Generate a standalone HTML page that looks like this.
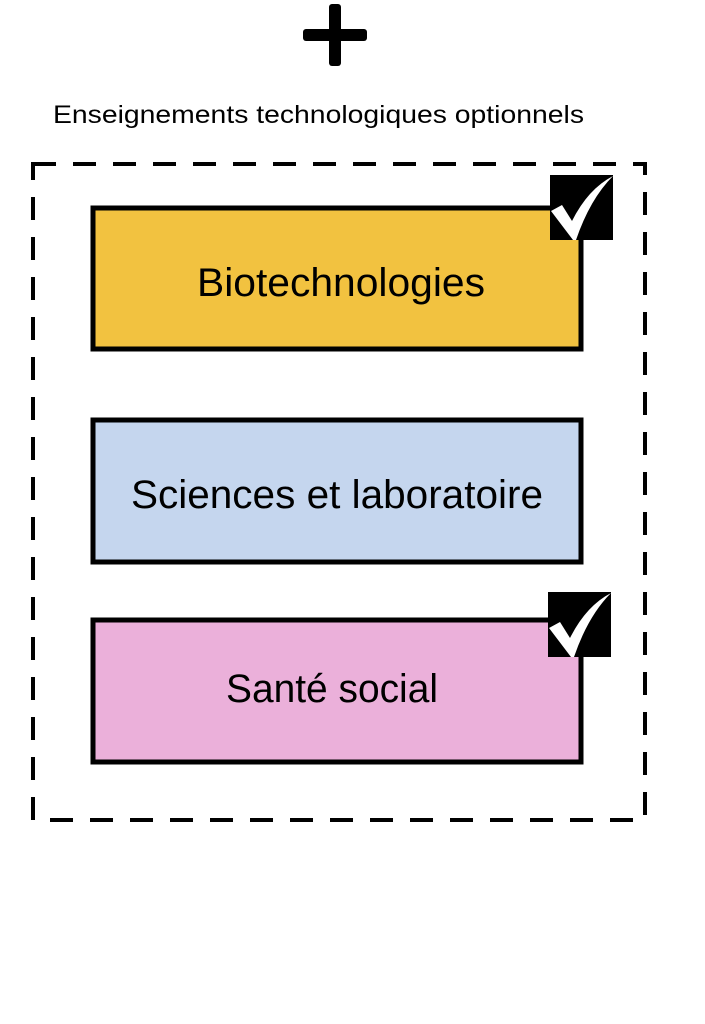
<!DOCTYPE html>
<html><head><meta charset="utf-8"><style>
html,body{margin:0;padding:0;background:#fff;width:705px;height:1024px;overflow:hidden}
svg text{font-family:"Liberation Sans",sans-serif}
</style></head><body>
<svg width="705" height="1024" viewBox="0 0 705 1024" xmlns="http://www.w3.org/2000/svg">
<rect x="329" y="4" width="12" height="62" rx="3" fill="#000"/>
<rect x="303" y="29" width="64" height="12" rx="3" fill="#000"/>
<text x="53" y="123" font-size="25" textLength="531" lengthAdjust="spacingAndGlyphs">Enseignements technologiques optionnels</text>
<rect x="33" y="164" width="612" height="656" fill="none" stroke="#000" stroke-width="4" stroke-dasharray="23 17"/>
<rect x="93" y="208" width="488" height="141" fill="#f2c240" stroke="#000" stroke-width="5"/>
<text x="341" y="296" font-size="40" text-anchor="middle" textLength="288" lengthAdjust="spacingAndGlyphs">Biotechnologies</text>
<rect x="93" y="420" width="488" height="142" fill="#c5d6ee" stroke="#000" stroke-width="5"/>
<text x="337" y="508" font-size="40" text-anchor="middle" textLength="412" lengthAdjust="spacingAndGlyphs">Sciences et laboratoire</text>
<rect x="93" y="620" width="488" height="142" fill="#ebb0da" stroke="#000" stroke-width="5"/>
<text x="332" y="702" font-size="40" text-anchor="middle" textLength="212" lengthAdjust="spacingAndGlyphs">Santé social</text>
<g transform="translate(550,175)">
<rect width="63" height="65" fill="#000"/>
<path d="M1 36 L12 30 L22 46 Q38 14 63 1 Q40 24 26 65 L23 65 Z" fill="#fff"/>
</g>
<g transform="translate(548,592)">
<rect width="63" height="65" fill="#000"/>
<path d="M1 36 L12 30 L22 46 Q38 14 63 1 Q40 24 26 65 L23 65 Z" fill="#fff"/>
</g>
</svg>
</body></html>
